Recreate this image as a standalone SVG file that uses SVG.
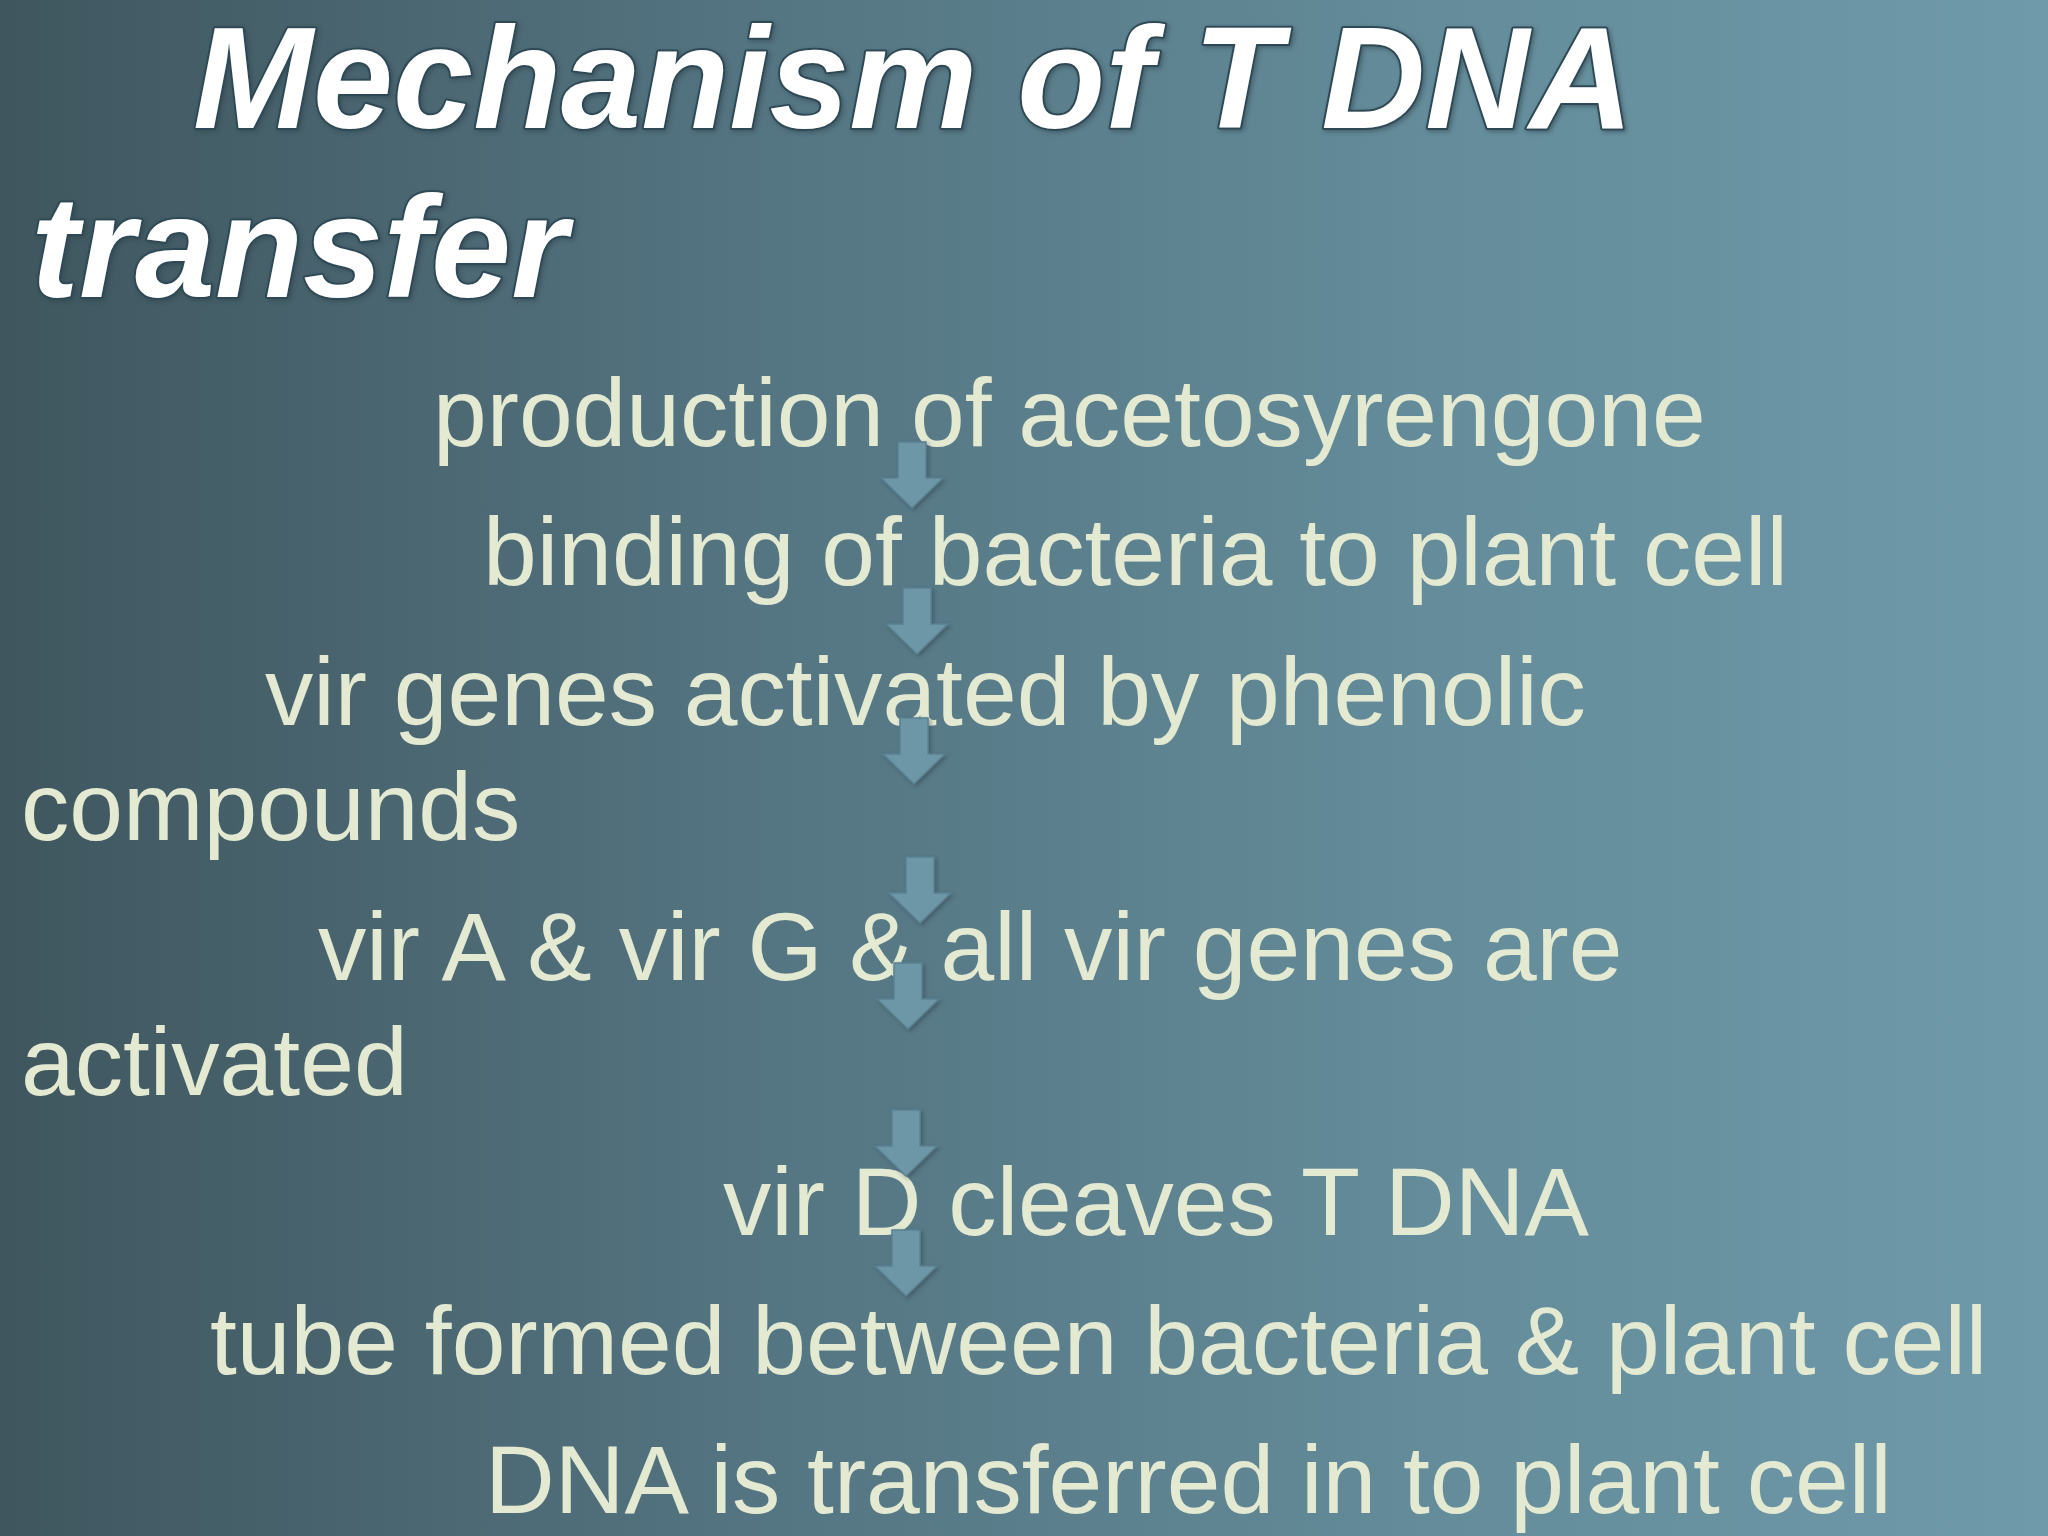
<svg xmlns="http://www.w3.org/2000/svg" width="2048" height="1536" viewBox="0 0 2048 1536">
  <defs>
    <linearGradient id="bg" x1="0" y1="0" x2="1" y2="0">
      <stop offset="0" stop-color="#3f565e"/>
      <stop offset="0.35" stop-color="#537380"/>
      <stop offset="0.7" stop-color="#648c9a"/>
      <stop offset="1" stop-color="#6f9aaa"/>
    </linearGradient>
    <filter id="sh" x="-20%" y="-20%" width="140%" height="140%">
      <feGaussianBlur in="SourceAlpha" stdDeviation="2"/>
      <feOffset dx="2" dy="2" result="b"/>
      <feFlood flood-color="#2c4048" flood-opacity="0.5"/>
      <feComposite in2="b" operator="in"/>
      <feMerge><feMergeNode/><feMergeNode in="SourceGraphic"/></feMerge>
    </filter>
    <path id="arr" d="M-14,0 h28 v36 h17 l-31,30 l-31,-30 h17 z"/>
  </defs>
  <style>
    .title { font-family: "Liberation Sans", Arial, sans-serif; font-weight: bold; font-style: italic; font-size: 144px; fill: #ffffff; stroke: #2e4a55; stroke-width: 4; paint-order: stroke; stroke-linejoin: round; }
    .step { font-family: "Liberation Sans", Arial, sans-serif; font-size: 96.6px; fill: #e4ead2; }
    .arrow { fill: #6d96a6; stroke: #5a8192; stroke-width: 1.5; }
  </style>
  <rect x="0" y="0" width="2048" height="1536" fill="url(#bg)"/>

  <g id="title" filter="url(#sh)">
    <text class="title" x="193" y="128">Mechanism of T DNA</text>
    <text class="title" x="31" y="297">transfer</text>
  </g>

  <g id="step1"><text class="step" x="433" y="446">production of acetosyrengone</text></g>
  <g id="step2"><text class="step" x="483" y="585">binding of bacteria to plant cell</text></g>
  <g id="step3">
    <text class="step" x="265" y="725">vir genes activated by phenolic</text>
    <text class="step" x="21" y="840">compounds</text>
  </g>
  <g id="step4">
    <text class="step" x="318" y="980">vir A &amp; vir G &amp; all vir genes are</text>
    <text class="step" x="21" y="1095">activated</text>
  </g>
  <g id="step5"><text class="step" x="723" y="1235">vir D cleaves T DNA</text></g>
  <g id="step6"><text class="step" x="210" y="1374">tube formed between bacteria &amp; plant cell</text></g>
  <g id="step7"><text class="step" x="485" y="1513">DNA is transferred in to plant cell</text></g>

  <g id="connectors" filter="url(#sh)">
    <use href="#arr" class="arrow" x="912" y="442"/>
    <use href="#arr" class="arrow" x="917" y="588"/>
    <use href="#arr" class="arrow" x="914" y="718"/>
    <use href="#arr" class="arrow" x="920" y="857"/>
    <use href="#arr" class="arrow" x="908" y="963"/>
    <use href="#arr" class="arrow" x="906" y="1110"/>
    <use href="#arr" class="arrow" x="906" y="1230"/>
  </g>
</svg>
